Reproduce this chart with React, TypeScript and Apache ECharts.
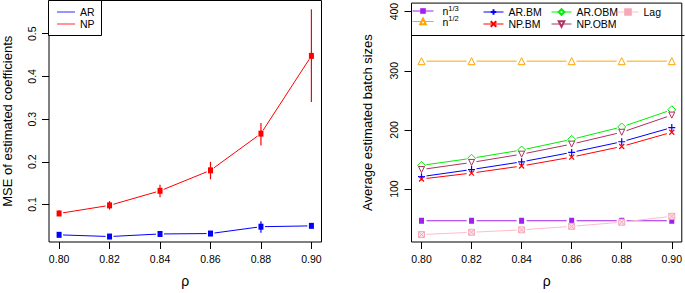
import React, { useEffect, useRef } from "react";
import * as echarts from "echarts";

// ---- data ----
const rho = [0.8, 0.82, 0.84, 0.86, 0.88, 0.9];
const xTicks = [0.8, 0.82, 0.84, 0.86, 0.88, 0.9];

// left panel: MSE of estimated coefficients
const arMse = [0.029, 0.025, 0.031, 0.032, 0.048, 0.05];
const arLow = [0.024, 0.021, 0.028, 0.027, 0.034, 0.046];
const arHigh = [0.034, 0.029, 0.034, 0.038, 0.061, 0.054];
const npMse = [0.079, 0.098, 0.132, 0.18, 0.266, 0.448];
const npLow = [0.073, 0.088, 0.117, 0.159, 0.238, 0.34];
const npHigh = [0.086, 0.108, 0.146, 0.2, 0.291, 0.557];
const leftYTicks = [0.1, 0.2, 0.3, 0.4, 0.5];

// right panel: average estimated batch sizes
const nCubeRoot = [46.4, 46.4, 46.4, 46.4, 46.4, 46.4];
const nSqrt = [316.2, 316.2, 316.2, 316.2, 316.2, 316.2];
const arBM = [121, 133, 146, 162, 180, 204];
const npBM = [117, 127, 139, 154, 172, 196];
const arOBM = [140, 152, 166, 184, 205, 234];
const npOBM = [133, 145, 159, 176, 196, 225];
const lag = [23, 27, 31, 37, 44, 54];
const rightYTicks = [100, 200, 300, 400];

const FONT = "Liberation Sans";

const pairs = (ys: number[]) => rho.map((x, i) => [x, ys[i]]);
const bars = (lo: number[], hi: number[]) => rho.map((x, i) => [x, lo[i], hi[i]]);
const segments = (ys: number[]) =>
  rho.slice(1).map((x, i) => [rho[i], ys[i], x, ys[i + 1]]);

const PLUS = "path://M0,5 L10,5 M5,0 L5,10";
const CROSS = "path://M0,0 L10,10 M10,0 L0,10";
const INV_TRI = "path://M0,0 L10,0 L5,9 Z";
const SQ_X = "path://M0,0 L10,0 L10,10 L0,10 Z M0,0 L10,10 M10,0 L0,10";

function errorBarSeries(data: number[][], color: string) {
  return {
    type: "custom",
    xAxisIndex: 0,
    yAxisIndex: 0,
    data,
    encode: { x: 0, y: [1, 2] },
    silent: true,
    z: 1,
    renderItem: (_p: any, api: any) => {
      const a = api.coord([api.value(0), api.value(1)]);
      const b = api.coord([api.value(0), api.value(2)]);
      return {
        type: "line",
        shape: { x1: a[0], y1: a[1], x2: b[0], y2: b[1] },
        style: { stroke: color, lineWidth: 1.2 },
      };
    },
  };
}

// R type="b": line segments with gaps around the points
function gapLineSeries(ys: number[], color: string, axis: number, gap: number) {
  return {
    type: "custom",
    xAxisIndex: axis,
    yAxisIndex: axis,
    data: segments(ys),
    encode: { x: [0, 2], y: [1, 3] },
    silent: true,
    z: 2,
    renderItem: (_p: any, api: any) => {
      const a = api.coord([api.value(0), api.value(1)]);
      const b = api.coord([api.value(2), api.value(3)]);
      const dx = b[0] - a[0];
      const dy = b[1] - a[1];
      const len = Math.sqrt(dx * dx + dy * dy) || 1;
      const ux = dx / len;
      const uy = dy / len;
      return {
        type: "line",
        shape: {
          x1: a[0] + ux * gap,
          y1: a[1] + uy * gap,
          x2: b[0] - ux * gap,
          y2: b[1] - uy * gap,
        },
        style: { stroke: color, lineWidth: 1 },
      };
    },
  };
}

function xAxisDef(gridIndex: number) {
  return {
    type: "value",
    gridIndex,
    min: 0.796,
    max: 0.904,
    name: "ρ",
    nameLocation: "middle",
    nameGap: 32,
    nameTextStyle: { fontFamily: FONT, fontSize: 14, color: "#000" },
    axisLine: { show: false },
    splitLine: { show: false },
    axisTick: {
      show: true,
      length: 7,
      customValues: xTicks,
      lineStyle: { color: "#000" },
    },
    axisLabel: {
      customValues: xTicks,
      margin: 11,
      fontFamily: FONT,
      fontSize: 10.5,
      color: "#000",
      formatter: (v: number) => v.toFixed(2),
    },
  };
}

function yAxisDef(
  gridIndex: number,
  min: number,
  max: number,
  ticks: number[],
  name: string,
  nameGap: number,
  fmt: (v: number) => string
) {
  return {
    type: "value",
    gridIndex,
    min,
    max,
    name,
    nameLocation: "middle",
    nameGap,
    nameTextStyle: { fontFamily: FONT, fontSize: 13, color: "#000" },
    axisLine: { show: false },
    splitLine: { show: false },
    axisTick: {
      show: true,
      length: 7,
      customValues: ticks,
      lineStyle: { color: "#000" },
    },
    axisLabel: {
      customValues: ticks,
      rotate: 90,
      margin: 12,
      fontFamily: FONT,
      fontSize: 10.5,
      color: "#000",
      formatter: fmt,
    },
  };
}

// marker-only series (lines drawn by gapLineSeries); legend shows line + marker
function markerSeries(
  name: string,
  data: number[],
  color: string,
  axis: number,
  symbol: string,
  symbolSize: any,
  itemStyle: any
) {
  return {
    name,
    type: "line",
    xAxisIndex: axis,
    yAxisIndex: axis,
    data: pairs(data),
    color,
    symbol,
    symbolSize,
    showSymbol: true,
    lineStyle: { color, width: 1, opacity: 0 },
    itemStyle,
    emphasis: { disabled: true },
    z: 3,
  };
}

export default function App() {
  const ref = useRef<HTMLDivElement>(null);

  useEffect(() => {
    if (!ref.current) return;
    const chart = echarts.init(ref.current, null, { renderer: "svg" });

    const legendText = { fontFamily: FONT, fontSize: 10.5, color: "#000", lineHeight: 12 };
    const legendLine = { opacity: 1, width: 1 };

    const option: any = {
      animation: false,
      backgroundColor: "#fff",
      grid: [
        {
          left: 48.5,
          top: 0.5,
          width: 273,
          height: 246,
          show: true,
          borderColor: "#000",
          borderWidth: 1,
          backgroundColor: "transparent",
        },
        {
          left: 411.5,
          top: 0.5,
          width: 273,
          height: 246,
          show: true,
          borderColor: "#000",
          borderWidth: 1,
          backgroundColor: "transparent",
        },
      ],
      xAxis: [xAxisDef(0), xAxisDef(1)],
      yAxis: [
        yAxisDef(0, 0.0122, 0.5777, leftYTicks, "MSE of estimated coefficients", 35, (v) =>
          v.toFixed(1)
        ),
        yAxisDef(1, 10.5, 414.4, rightYTicks, "Average estimated batch sizes", 38, (v) =>
          String(v)
        ),
      ],
      legend: [
        {
          data: [
            { name: "AR", icon: "rect" },
            { name: "NP", icon: "rect" },
          ],
          orient: "vertical",
          left: 57,
          top: 6,
          padding: 0,
          itemWidth: 18,
          itemHeight: 1.5,
          itemGap: 0,
          selectedMode: false,
          textStyle: legendText,
          itemStyle: { opacity: 0.55 },
        },
        {
          data: ["n13", "n12"],
          orient: "vertical",
          left: 412,
          top: 4,
          padding: 0,
          itemWidth: 21,
          itemHeight: 7,
          itemGap: -2,
          selectedMode: false,
          lineStyle: legendLine,
          formatter: (name: string) =>
            name === "n13" ? "{b|n}{s|1/3}" : "{b|n}{s|1/2}",
          textStyle: {
            fontFamily: FONT,
            fontSize: 10.5,
            color: "#000",
            padding: [0, 0, 0, 4],
            rich: {
              b: { fontFamily: FONT, fontSize: 10.5, lineHeight: 14, color: "#000" },
              s: { fontFamily: FONT, fontSize: 7.5, verticalAlign: "top", color: "#000" },
            },
          },
        },
        {
          data: ["AR.BM", "NP.BM"],
          orient: "vertical",
          left: 483,
          top: 6,
          padding: 0,
          itemWidth: 20,
          itemHeight: 7,
          itemGap: 0,
          selectedMode: false,
          lineStyle: legendLine,
          textStyle: legendText,
        },
        {
          data: ["AR.OBM", "NP.OBM"],
          orient: "vertical",
          left: 551,
          top: 6,
          padding: 0,
          itemWidth: 20,
          itemHeight: 7,
          itemGap: 0,
          selectedMode: false,
          lineStyle: legendLine,
          textStyle: legendText,
        },
        {
          data: ["Lag"],
          orient: "vertical",
          left: 617,
          top: 6,
          padding: 0,
          itemWidth: 21,
          itemHeight: 7,
          itemGap: 0,
          selectedMode: false,
          lineStyle: legendLine,
          textStyle: legendText,
        },
      ],
      graphic: [
        {
          type: "rect",
          shape: { x: 48.5, y: 0.5, width: 53, height: 35 },
          style: { fill: "#fff", stroke: "#000", lineWidth: 1 },
          z: 0,
          silent: true,
        },
        {
          type: "line",
          shape: { x1: 411.5, y1: 35.5, x2: 684.5, y2: 35.5 },
          style: { stroke: "#000", lineWidth: 1 },
          silent: true,
        },
      ],
      series: [
        errorBarSeries(bars(arLow, arHigh), "#0000ff"),
        errorBarSeries(bars(npLow, npHigh), "#ff0000"),
        gapLineSeries(arMse, "#0000ff", 0, 4),
        gapLineSeries(npMse, "#ff0000", 0, 4),
        markerSeries("AR", arMse, "#0000ff", 0, "rect", [5, 6], { color: "#0000ff" }),
        markerSeries("NP", npMse, "#ff0000", 0, "rect", [5, 6], { color: "#ff0000" }),

        gapLineSeries(nCubeRoot, "#a020f0", 1, 5),
        gapLineSeries(nSqrt, "#ffa500", 1, 5),
        gapLineSeries(arBM, "#0000ff", 1, 5),
        gapLineSeries(npBM, "#ff0000", 1, 5),
        gapLineSeries(arOBM, "#00ee00", 1, 5),
        gapLineSeries(npOBM, "#b03060", 1, 5),
        gapLineSeries(lag, "#ffbcc8", 1, 5),
        markerSeries("n13", nCubeRoot, "#a020f0", 1, "rect", [5, 6], { color: "#a020f0" }),
        markerSeries("n12", nSqrt, "#ffa500", 1, "triangle", 7, {
          color: "#fff",
          borderColor: "#ffa500",
          borderWidth: 1,
        }),
        markerSeries("AR.BM", arBM, "#0000ff", 1, PLUS, 7, {
          color: "#0000ff",
          borderColor: "#0000ff",
          borderWidth: 1.2,
        }),
        markerSeries("NP.BM", npBM, "#ff0000", 1, CROSS, 5, {
          color: "#ff0000",
          borderColor: "#ff0000",
          borderWidth: 1.2,
        }),
        markerSeries("AR.OBM", arOBM, "#00ee00", 1, "diamond", 8, {
          color: "#fff",
          borderColor: "#00ee00",
          borderWidth: 1,
        }),
        markerSeries("NP.OBM", npOBM, "#b03060", 1, INV_TRI, 6, {
          color: "#fff",
          borderColor: "#b03060",
          borderWidth: 1,
        }),
        markerSeries("Lag", lag, "#ffbcc8", 1, SQ_X, 6, {
          color: "#ffe4ea",
          borderColor: "#f7a8b8",
          borderWidth: 1,
        }),
      ],
    };

    chart.setOption(option);
    return () => chart.dispose();
  }, []);

  return (
    <div
      ref={ref}
      style={{ position: "fixed", left: 0, top: 0, width: 685, height: 293 }}
    />
  );
}
